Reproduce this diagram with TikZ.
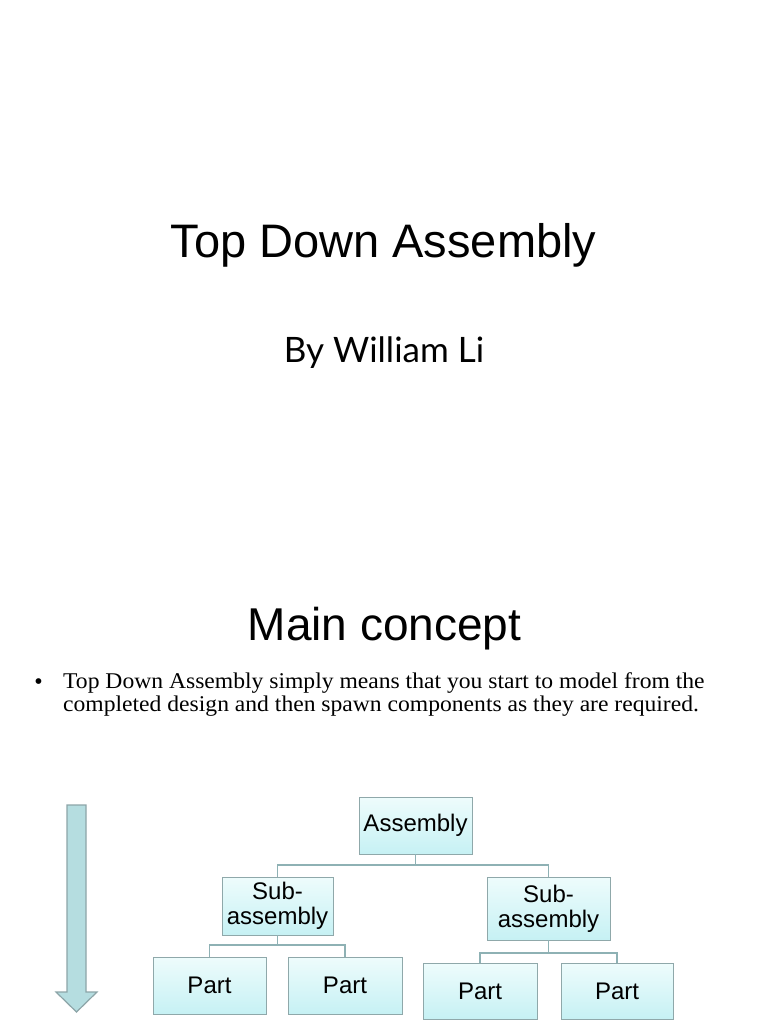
\documentclass[tikz,border=0pt]{standalone}
\usepackage{fontspec}
\usepackage{graphicx}
\setmainfont{Liberation Sans}
\newfontfamily\bodyserif{Liberation Serif}
\newfontfamily\byfont{Lato}
\usetikzlibrary{calc}
\definecolor{boxborder}{RGB}{143,168,170}
\definecolor{boxtop}{RGB}{238,252,252}
\definecolor{boxbot}{RGB}{198,241,244}
\definecolor{connc}{RGB}{142,177,180}
\definecolor{arrfill}{RGB}{181,221,224}
\definecolor{arrborder}{RGB}{141,165,168}
\tikzset{
  boxnode/.style={draw=boxborder, line width=0.8pt, top color=boxtop, bottom color=boxbot,
    inner sep=0pt, align=center, font=\fontsize{24}{25}\selectfont},
  conn/.style={draw=connc, line width=1.6pt},
  titlefont/.style={font=\fontsize{47}{56}\selectfont},
  bodyline/.style={font=\bodyserif\fontsize{22.5}{23}\selectfont, anchor=base west, inner sep=0pt},
}
\begin{document}
\begin{tikzpicture}[x=1pt,y=-1pt]
\useasboundingbox (0,0) rectangle (768,1024);
\fill[white] (0,0) rectangle (768,1024);

% slide 1
\node[titlefont, anchor=base] (title) at (383.5,257) {Top Down Assembly};
\node[font=\byfont\fontsize{35}{42}\selectfont, anchor=base] (author) at (384,362) {By William Li};

% slide 2
\node[font=\fontsize{46}{55}\selectfont, anchor=base] (main) at (384.5,640) {Main concept};
\node[font=\bodyserif\fontsize{24}{24}\selectfont, anchor=base, inner sep=0pt] (bullet) at (38.5,689) {•};
\node[bodyline] (line1) at (63,688)
  {\scalebox{1.049}[1]{Top Down Assembly simply means that you start to model from the}};
\node[bodyline] (line2) at (63,711)
  {\scalebox{1.049}[1]{completed design and then spawn components as they are required.}};

% arrow
\draw[fill=arrfill, draw=arrborder, line width=1.2pt, line join=miter]
  (67,805) -- (86,805) -- (86,992) -- (97,992) -- (76.5,1012) -- (56,992) -- (67,992) -- cycle;

% hierarchy boxes
\node[boxnode, minimum width=113pt, minimum height=57pt] (asm) at (415.5,825.5) {Assembly};
\node[boxnode, minimum width=111pt, minimum height=58pt] (subL) at (277.5,906) {Sub-\\assembly};
\node[boxnode, minimum width=123pt, minimum height=63pt] (subR) at (548.5,908.5) {Sub-\\assembly};
\node[boxnode, minimum width=113pt, minimum height=57pt] (p1) at (209.5,985.5) {Part};
\node[boxnode, minimum width=114pt, minimum height=57pt] (p2) at (345,985.5) {Part};
\node[boxnode, minimum width=114pt, minimum height=56pt] (p3) at (480,991) {Part};
\node[boxnode, minimum width=112pt, minimum height=56pt] (p4) at (617,991) {Part};

% connectors
\coordinate (j1) at (415.5,865);
\coordinate (j2) at (277.5,945);
\coordinate (j3) at (548.5,953);
\draw[conn] (asm.south) -- (j1);
\draw[conn] (subL.north) |- (j1) -| (subR.north);
\draw[conn] (subL.south) -- (j2);
\draw[conn] (p1.north) |- (j2) -| (p2.north);
\draw[conn] (subR.south) -- (j3);
\draw[conn] (p3.north) |- (j3) -| (p4.north);
\end{tikzpicture}
\end{document}
